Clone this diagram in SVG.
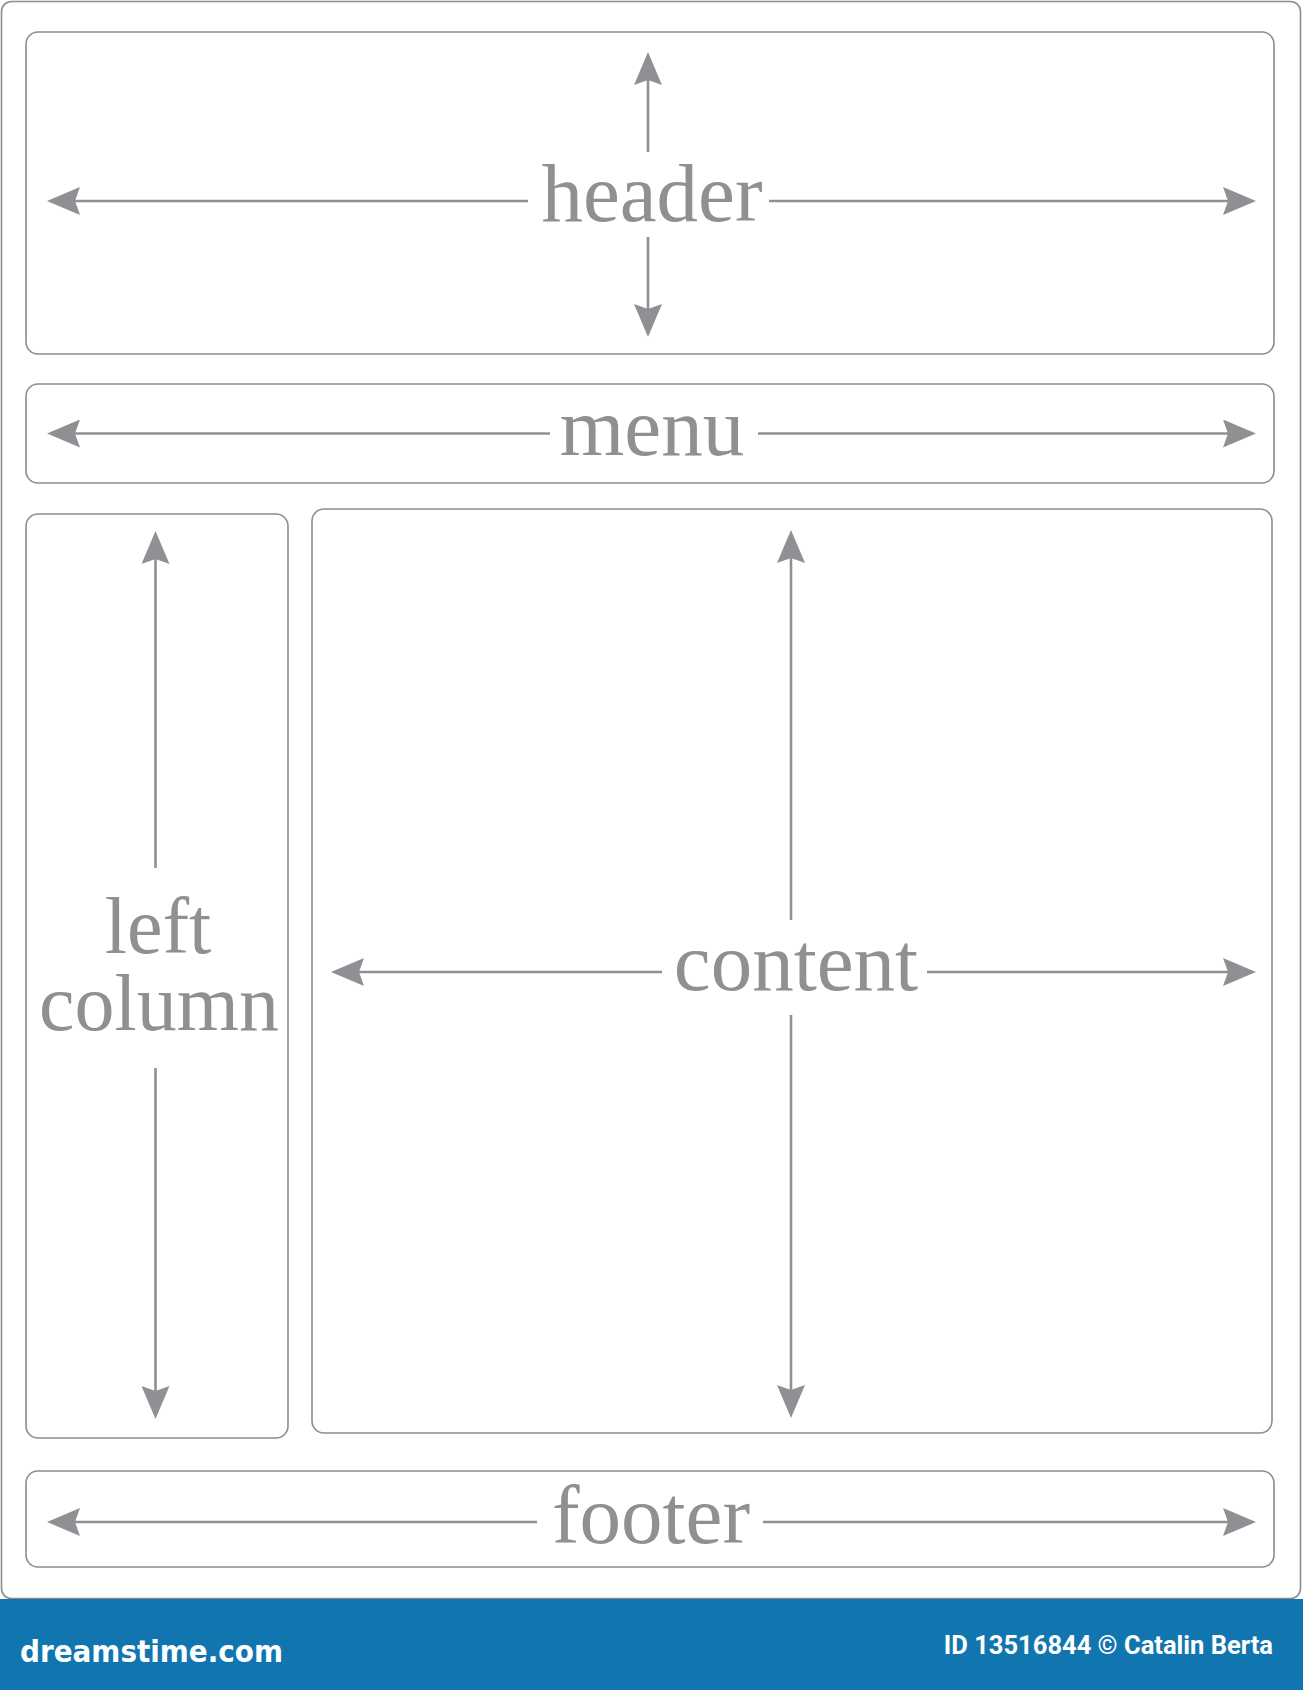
<svg xmlns="http://www.w3.org/2000/svg" width="1303" height="1690" viewBox="0 0 1303 1690">
<style>
.box{fill:none;stroke:#8c8c8e;stroke-width:1.6}
.lbl{font-family:"Liberation Serif","Times New Roman",serif;font-size:83px;fill:#8f9093;text-anchor:middle}
.arr{stroke:#8f9093;stroke-width:2.6;fill:none;marker-end:url(#ah)}
</style>
<defs>
<marker id="ah" viewBox="0 0 33 28" refX="5" refY="14" markerWidth="33" markerHeight="28" markerUnits="userSpaceOnUse" orient="auto">
<path d="M0,0 L33,14 L0,28 L5,14 Z" fill="#8f9093"/>
</marker>
</defs>
<rect x="0" y="0" width="1303" height="1690" fill="#ffffff"/>
<rect class="box" x="1.5" y="1.5" width="1299" height="1597" rx="10"/>
<g id="header">
<rect class="box" x="26" y="32" width="1248" height="322" rx="12"/>
<text class="lbl" x="652" y="221">header</text>
</g>
<g id="menu">
<rect class="box" x="26" y="384" width="1248" height="99" rx="12"/>
<text class="lbl" x="652" y="455">menu</text>
</g>
<g id="left-column">
<rect class="box" x="26" y="514" width="262" height="924" rx="12"/>
<text class="lbl" style="font-size:80px"><tspan x="158" y="953">left</tspan><tspan x="159" y="1030">column</tspan></text>
</g>
<g id="content">
<rect class="box" x="312" y="509" width="960" height="924" rx="12"/>
<text class="lbl" x="796" y="990">content</text>
</g>
<g id="footer">
<rect class="box" x="26" y="1471" width="1248" height="96" rx="12"/>
<text class="lbl" x="651" y="1543">footer</text>
</g>
<g id="connectors">
<line class="arr" x1="528" y1="201" x2="75" y2="201"/>
<line class="arr" x1="769" y1="201" x2="1228" y2="201"/>
<line class="arr" x1="648" y1="152" x2="648" y2="80"/>
<line class="arr" x1="648" y1="237" x2="648" y2="309"/>
<line class="arr" x1="550" y1="433.5" x2="75" y2="433.5"/>
<line class="arr" x1="758" y1="433.5" x2="1228" y2="433.5"/>
<line class="arr" x1="155.5" y1="868" x2="155.5" y2="559"/>
<line class="arr" x1="155.5" y1="1068" x2="155.5" y2="1391"/>
<line class="arr" x1="662" y1="972" x2="359" y2="972"/>
<line class="arr" x1="927" y1="972" x2="1228" y2="972"/>
<line class="arr" x1="791" y1="920" x2="791" y2="558"/>
<line class="arr" x1="791" y1="1015" x2="791" y2="1390"/>
<line class="arr" x1="537" y1="1522" x2="75" y2="1522"/>
<line class="arr" x1="763" y1="1522" x2="1228" y2="1522"/>
</g>
<g id="banner">
<rect x="0" y="1599" width="1303" height="91" fill="#1176b0"/>
<text x="20" y="1662" font-family="'DejaVu Sans', sans-serif" font-size="31" font-weight="bold" fill="#ffffff" textLength="263" lengthAdjust="spacingAndGlyphs">dreamstime.com</text>
<text x="1273" y="1654" font-family="Roboto, 'Liberation Sans', sans-serif" font-weight="bold" font-size="25.5" fill="#ffffff" text-anchor="end">ID 13516844 © Catalin Berta</text>
</g>
</svg>
